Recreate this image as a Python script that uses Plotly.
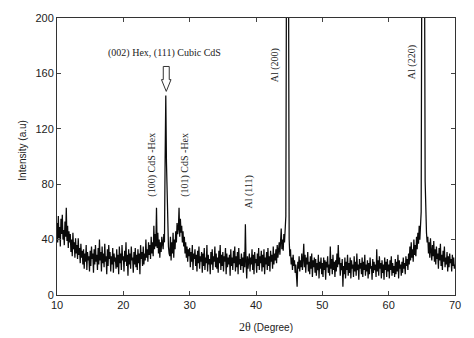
import numpy as np
import plotly.graph_objects as go

# 2-theta grid: 10.0 .. 70.0 deg in 0.1 deg steps (one row of ten values per degree)
two_theta = np.round(np.arange(10.0, 70.0001, 0.1), 1)

intensity_rows = [
    [52, 38, 57, 41, 49, 35, 55, 44, 58, 40],        # 10
    [47, 36, 53, 42, 63, 39, 50, 34, 46, 38],        # 11
    [44, 31, 40, 28, 45, 33, 38, 27, 41, 30],        # 12
    [36, 26, 41, 29, 34, 23, 37, 27, 32, 22],        # 13
    [33, 19, 30, 24, 36, 18, 31, 25, 28, 17],        # 14
    [32, 21, 35, 26, 30, 16, 33, 22, 36, 24],        # 15
    [29, 18, 34, 22, 40, 25, 31, 17, 35, 23],        # 16
    [30, 20, 37, 24, 28, 15, 33, 21, 36, 26],        # 17
    [31, 17, 28, 22, 34, 16, 30, 24, 27, 19],        # 18
    [33, 20, 29, 15, 35, 23, 30, 18, 36, 25],        # 19
    [28, 17, 32, 24, 38, 21, 29, 14, 33, 22],        # 20
    [30, 19, 35, 25, 27, 16, 31, 22, 34, 20],        # 21
    [29, 18, 33, 23, 30, 15, 36, 26, 31, 21],        # 22
    [35, 22, 30, 25, 40, 27, 33, 24, 38, 29],        # 23
    [36, 26, 42, 30, 38, 28, 50, 33, 44, 35],        # 24
    [63, 34, 45, 30, 40, 27, 38, 31, 42, 36],        # 25  (100) CdS-Hex
    [33, 44, 38, 98, 144, 96, 65, 40, 35, 30],       # 26  (002)/(111) CdS
    [28, 42, 25, 38, 30, 45, 27, 40, 33, 46],        # 27
    [38, 52, 44, 48, 63, 42, 55, 45, 50, 38],        # 28  (101) CdS-Hex
    [46, 35, 42, 30, 38, 27, 35, 24, 33, 28],        # 29
    [34, 20, 31, 24, 36, 18, 30, 26, 33, 21],        # 30
    [29, 17, 32, 23, 35, 19, 28, 24, 31, 16],        # 31
    [30, 21, 34, 18, 27, 23, 36, 17, 29, 22],        # 32
    [26, 15, 31, 22, 33, 18, 28, 24, 35, 20],        # 33
    [30, 19, 27, 16, 32, 23, 36, 18, 29, 21],        # 34
    [31, 17, 28, 24, 34, 15, 30, 20, 27, 22],        # 35
    [29, 14, 33, 21, 27, 18, 32, 23, 35, 17],        # 36
    [28, 20, 31, 15, 34, 22, 26, 18, 30, 21],        # 37
    [27, 16, 31, 20, 51, 24, 12, 28, 19, 25],        # 38  Al (111)
    [30, 17, 27, 22, 33, 18, 29, 15, 31, 23],        # 39
    [26, 16, 30, 21, 34, 18, 28, 23, 32, 17],        # 40
    [29, 20, 33, 15, 27, 22, 31, 18, 34, 21],        # 41
    [28, 17, 32, 24, 29, 19, 35, 22, 30, 25],        # 42
    [33, 23, 36, 27, 32, 38, 29, 41, 48, 33],        # 43
    [40, 32, 44, 38, 46, 57, 250, 250, 250, 250],    # 44  Al (200)
    [40, 28, 33, 22, 27, 18, 29, 21, 25, 16],        # 45
    [22, 14, 6, 24, 19, 28, 17, 25, 20, 30],         # 46
    [18, 26, 37, 20, 29, 16, 27, 22, 31, 17],        # 47
    [24, 15, 28, 19, 30, 13, 25, 20, 27, 16],        # 48
    [26, 14, 23, 18, 29, 12, 24, 19, 27, 15],        # 49
    [23, 13, 27, 18, 25, 11, 24, 20, 28, 16],        # 50
    [22, 14, 35, 19, 26, 15, 29, 18, 24, 13],        # 51
    [25, 17, 30, 20, 36, 22, 27, 14, 23, 18],        # 52
    [26, 6, 21, 15, 27, 12, 24, 18, 29, 14],         # 53
    [23, 16, 27, 12, 25, 19, 22, 13, 28, 17],        # 54
    [24, 14, 30, 18, 22, 11, 26, 19, 23, 15],        # 55
    [27, 13, 24, 18, 29, 14, 22, 17, 25, 12],        # 56
    [23, 15, 27, 19, 21, 11, 26, 16, 24, 18],        # 57
    [22, 13, 33, 17, 25, 14, 28, 19, 23, 12],        # 58
    [25, 16, 22, 11, 27, 18, 24, 13, 26, 17],        # 59
    [22, 12, 25, 18, 28, 14, 23, 16, 21, 13],        # 60
    [26, 15, 24, 17, 29, 12, 25, 19, 22, 14],        # 61
    [24, 16, 27, 19, 23, 15, 28, 21, 26, 18],        # 62
    [30, 22, 35, 25, 38, 27, 33, 24, 40, 29],        # 63
    [36, 28, 42, 33, 45, 37, 50, 40, 52, 60],        # 64
    [250, 250, 250, 250, 250, 82, 55, 45, 38, 42],   # 65  Al (220)
    [30, 38, 27, 41, 32, 25, 36, 28, 39, 24],        # 66
    [33, 22, 35, 26, 30, 19, 34, 25, 37, 21],        # 67
    [29, 18, 32, 24, 35, 20, 27, 22, 31, 17],        # 68
    [28, 20, 30, 23, 26, 17, 29, 21, 27, 19],        # 69
    [22],                                            # 70
]
intensity = [v for row in intensity_rows for v in row]

x_ticks = [10, 20, 30, 40, 50, 60, 70]
y_ticks = [0, 40, 80, 120, 160, 200]

# peak labels: (text, x, y)
peak_labels = [
    ("(100) CdS -Hex", 24.3, 94),
    ("(101) CdS -Hex", 29.3, 94),
    ("Al (111)", 38.8, 74),
    ("Al (200)", 42.9, 166),
    ("Al (220)", 63.5, 168),
]
top_label = "(002) Hex, (111) Cubic CdS"

fig = go.Figure()
fig.add_trace(go.Scatter(
    x=two_theta, y=intensity, mode="lines",
    line=dict(color="#0a0a0a", width=1.25),
    hoverinfo="skip", showlegend=False,
))

serif = "Liberation Serif, Times New Roman, serif"
sans = "Liberation Sans, Arial, sans-serif"

annotations = []
for txt, xx, yy in peak_labels:
    annotations.append(dict(x=xx, y=yy, xref="x", yref="y", text=txt,
                            textangle=-90, showarrow=False,
                            font=dict(family=serif, size=10, color="#222")))
annotations.append(dict(x=26.2, y=175, xref="x", yref="y", text=top_label,
                        showarrow=False,
                        font=dict(family=serif, size=10, color="#222")))
annotations.append(dict(x=0.526, y=-0.117, xref="paper", yref="paper",
                        text='<span style="font-family:Liberation Serif;font-size:12px">2θ</span> (Degree)',
                        showarrow=False, xanchor="center", yanchor="middle",
                        font=dict(family=sans, size=10, color="#222")))
annotations.append(dict(x=-0.0854, y=0.521, xref="paper", yref="paper",
                        text="Intensity (a.u)", textangle=-90,
                        showarrow=False, xanchor="center", yanchor="middle",
                        font=dict(family=sans, size=10, color="#222")))

# hollow downward arrow above the main CdS peak
ax = 26.47
sh, hh = 0.45, 0.72
arrow_path = (f"M {ax-sh},165 L {ax+sh},165 L {ax+sh},155.5 L {ax+hh},155.5 "
              f"L {ax},147 L {ax-hh},155.5 L {ax-sh},155.5 Z")

fig.update_layout(
    width=474, height=338,
    margin=dict(l=57, r=19, t=15, b=43),
    paper_bgcolor="white", plot_bgcolor="white",
    annotations=annotations,
    shapes=[dict(type="path", path=arrow_path, xref="x", yref="y",
                 line=dict(color="#333", width=1), fillcolor="white")],
    xaxis=dict(range=[10, 70], tickvals=x_ticks, ticks="inside", ticklen=4,
               showline=True, linecolor="#333", linewidth=1, mirror="ticks",
               showgrid=False, zeroline=False,
               tickfont=dict(family=sans, size=11, color="#222")),
    yaxis=dict(range=[0, 200], tickvals=y_ticks, ticks="inside", ticklen=4,
               showline=True, linecolor="#333", linewidth=1, mirror="ticks",
               showgrid=False, zeroline=False,
               tickfont=dict(family=sans, size=11, color="#222")),
)

fig.write_html("out.html")
